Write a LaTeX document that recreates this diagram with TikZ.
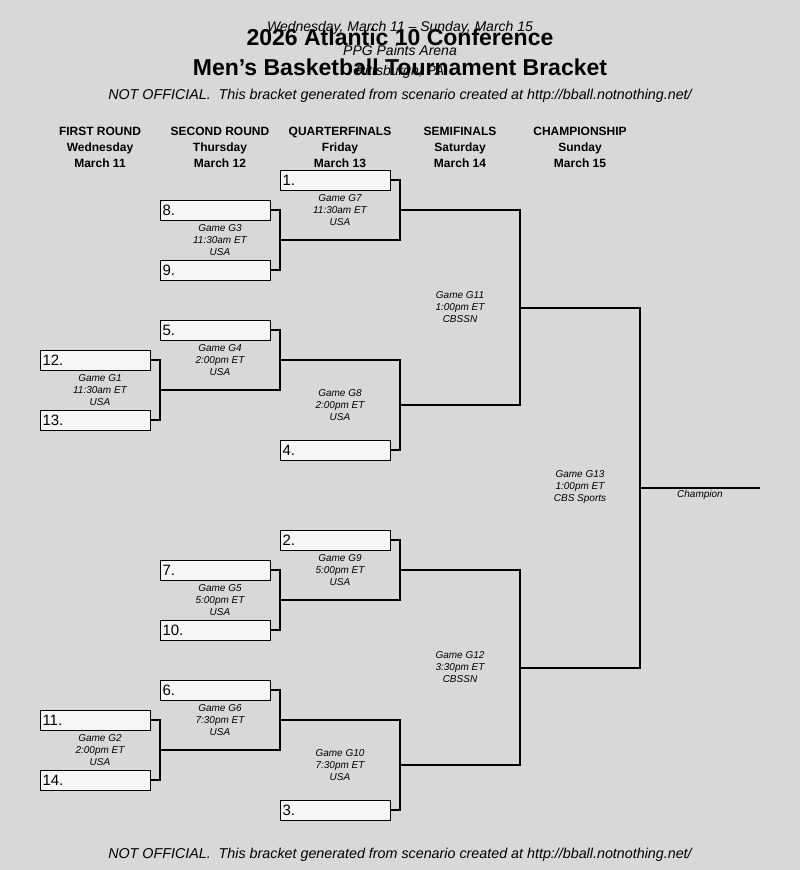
\documentclass[tikz,border=0pt]{standalone}
\usepackage{fontspec}
\setmainfont{Liberation Sans}
\usetikzlibrary{positioning}
\definecolor{PageGray}{RGB}{216,216,216}
\definecolor{BoxWhite}{RGB}{246,246,246}

\begin{document}
\begin{tikzpicture}[x=1pt, y=-1pt,
    seedbox/.style={draw, fill=BoxWhite, line width=0.8pt, minimum width=110pt, minimum height=20pt,
      text width=105pt, inner xsep=2.5pt, inner ysep=0pt, align=left, font=\fontsize{15}{17}\selectfont},
    gamelbl/.style={font=\fontsize{10}{12}\selectfont\itshape, align=center, inner sep=0pt},
    rndhead/.style={font=\fontsize{12}{16}\selectfont\bfseries, align=center, inner sep=0pt},
    subttl/.style={font=\fontsize{14}{16}\selectfont\itshape},
    bline/.style={line width=2pt}]
    % Page
    \fill[PageGray] (0,0) rectangle (800,870);
    \useasboundingbox (0,0) rectangle (800,870);

    % Titles
    \node[font=\fontsize{23}{26}\selectfont\bfseries] (title1) at (400,37) {2026 Atlantic 10 Conference};
    \node[font=\fontsize{23}{26}\selectfont\bfseries] (title2) at (400,67) {Men's Basketball Tournament Bracket};
    \node[subttl] (dates) at (400,28) {Wednesday, March 11 -- Sunday, March 15};
    \node[subttl] (arena) at (400,50) {PPG Paints Arena};
    \node[subttl] (city) at (400,72) {Pittsburgh, PA};
    \node[subttl, font=\fontsize{14.3}{16}\selectfont\itshape] (note1) at (400,96) {NOT OFFICIAL.\ \ This bracket generated from scenario created at http://bball.notnothing.net/};
    \node[subttl, font=\fontsize{14.3}{16}\selectfont\itshape] (note2) at (400,855) {NOT OFFICIAL.\ \ This bracket generated from scenario created at http://bball.notnothing.net/};

    % Round headers
    \foreach \x/\rnd/\day/\date [count=\i] in {100/FIRST ROUND/Wednesday/March 11, 220/SECOND ROUND/Thursday/March 12,
        340/QUARTERFINALS/Friday/March 13, 460/SEMIFINALS/Saturday/March 14, 580/CHAMPIONSHIP/Sunday/March 15}
      \node[rndhead] (hd\i) at (\x,147) {\rnd\\\day\\\date};

    % Seed boxes
    \foreach \seed/\x/\y in {12/95/360, 13/95/420, 11/95/720, 14/95/780,
        8/215/210, 9/215/270, 5/215/330, 7/215/570, 10/215/630, 6/215/690,
        1/335/180, 4/335/450, 2/335/540, 3/335/810}
      \node[seedbox] (s\seed) at (\x,\y) {\seed.};

    % Game junctions
    \coordinate (g1) at (160,390);
    \coordinate (g2) at (160,750);
    \coordinate (g3) at (280,240);
    \coordinate (g4) at (280,360);
    \coordinate (g5) at (280,600);
    \coordinate (g6) at (280,720);
    \coordinate (g7) at (400,210);
    \coordinate (g8) at (400,405);
    \coordinate (g9) at (400,570);
    \coordinate (g10) at (400,765);
    \coordinate (g11) at (520,307.5);
    \coordinate (g12) at (520,667.5);
    \coordinate (g13) at (640,487.5);
    \coordinate (champend) at (760,487.5);

    % Bracket lines
    \draw[bline] (s12.east) -| (g1) |- (s13.east);
    \draw[bline] (s11.east) -| (g2) |- (s14.east);
    \draw[bline] (s8.east) -| (g3) |- (s9.east);
    \draw[bline] (s5.east) -| (g4) |- (g1);
    \draw[bline] (s7.east) -| (g5) |- (s10.east);
    \draw[bline] (s6.east) -| (g6) |- (g2);
    \draw[bline] (s1.east) -| (g7) |- (g3);
    \draw[bline] (g4) -| (g8) |- (s4.east);
    \draw[bline] (s2.east) -| (g9) |- (g5);
    \draw[bline] (g6) -| (g10) |- (s3.east);
    \draw[bline] (g7) -| (g11) |- (g8);
    \draw[bline] (g9) -| (g12) |- (g10);
    \draw[bline] (g11) -| (g13) |- (g12);
    \draw[bline] (g13) -- (champend);

    % Game labels
    \foreach \g/\t/\tv in {1/11:30am ET/USA, 2/2:00pm ET/USA, 3/11:30am ET/USA, 4/2:00pm ET/USA,
        5/5:00pm ET/USA, 6/7:30pm ET/USA, 7/11:30am ET/USA, 8/2:00pm ET/USA, 9/5:00pm ET/USA,
        10/7:30pm ET/USA, 11/1:00pm ET/CBSSN, 12/3:30pm ET/CBSSN, 13/1:00pm ET/CBS Sports}
      \node[gamelbl] (lbl\g) at ([xshift=-60pt]g\g) {Game G\g\\\t\\\tv};
    \node[gamelbl] (champ) at (700,495) {Champion};
\end{tikzpicture}
\end{document}
